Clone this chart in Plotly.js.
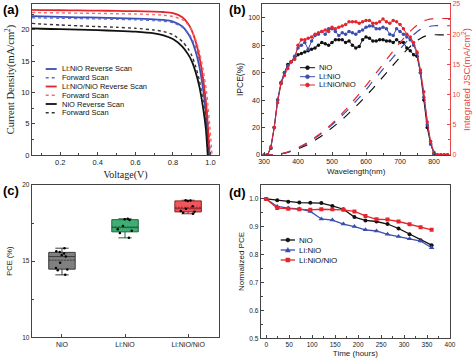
<!DOCTYPE html>
<html><head><meta charset="utf-8">
<script src="https://cdn.plot.ly/plotly-3.0.1.min.js"></script>
<style>html,body{margin:0;padding:0;background:#fff}#chart{width:474px;height:361px}</style>
</head><body><div id="chart"></div>
<script>
// ---------- (a) J-V curves ----------
const vRedRev = [0.05,0.1,0.2,0.3,0.4,0.5,0.6,0.7,0.75,0.8,0.85,0.88,0.9,0.92,0.94,0.96,0.98,0.995];
const jRedRev = [23.15,23.13,23.1,23.07,23.04,23.0,22.95,22.88,22.82,22.65,22.0,21.0,19.9,18.2,15.8,12.3,7.0,0];
const vRedFwd = [0.05,0.1,0.2,0.3,0.4,0.5,0.6,0.7,0.75,0.8,0.85,0.88,0.9,0.92,0.94,0.96,0.98,0.995,1.008];
const jRedFwd = [22.75,22.72,22.68,22.64,22.6,22.55,22.5,22.4,22.3,22.1,21.6,20.8,19.9,18.5,16.6,13.8,9.8,5.0,0];
const vBlueRev = [0.05,0.1,0.2,0.3,0.4,0.5,0.6,0.7,0.75,0.8,0.85,0.88,0.9,0.92,0.94,0.96,0.975,0.99];
const jBlueRev = [22.15,22.12,22.05,21.98,21.92,21.85,21.78,21.65,21.55,21.3,20.5,19.4,18.3,16.6,14.2,10.6,6.8,0];
const vBlueFwd = [0.05,0.1,0.2,0.3,0.4,0.5,0.6,0.7,0.75,0.8,0.85,0.88,0.9,0.92,0.94,0.96,0.98,1.0];
const jBlueFwd = [21.9,21.88,21.83,21.78,21.72,21.65,21.58,21.45,21.35,21.1,20.4,19.5,18.6,17.2,15.1,12.0,7.5,0];
const vBlackRev = [0.05,0.1,0.2,0.3,0.4,0.5,0.6,0.7,0.75,0.8,0.85,0.88,0.9,0.92,0.94,0.96,0.975,0.985];
const jBlackRev = [20.2,20.15,20.08,20.0,19.92,19.82,19.68,19.4,19.1,18.5,17.3,16.1,15.0,13.3,11.0,7.6,4.2,0];
const vBlackFwd = [0.05,0.1,0.2,0.3,0.4,0.5,0.6,0.7,0.75,0.8,0.85,0.88,0.9,0.92,0.94,0.96,0.975,0.99];
const jBlackFwd = [21.0,20.9,20.75,20.62,20.5,20.38,20.22,19.95,19.7,19.2,18.1,17.0,15.9,14.2,12.0,8.7,5.5,0];
const jvNames = ["Li:NiO Reverse Scan","Forward Scan","Li:NiO/NiO Reverse Scan","Forward Scan","NiO Reverse Scan","Forward Scan"];

// ---------- (b) IPCE ----------
const wl = [300,310,320,330,340,350,360,370,380,390,400,410,420,430,440,450,460,470,480,490,500,510,520,530,540,550,560,570,580,590,600,610,620,630,640,650,660,670,680,690,700,710,720,730,740,750,760,770,780,790,800,810,820,830,840];
const ipceNiO = [0,0,5,20,40,52,60,66,68,70,73,74,75,76,77,78,80,82,81,80,82,84,84,84,82,83,80,78,79,84,86,85,83,83,84,84,83,83,82,84,82,82,78,76,73,72,60,40,20,8,1,0,0,0,0];
const ipceLi = [0,0,5,20,40,53,60,65,68,72,78,80,82,77,83,87,88,90,88,92,92,90,87,89,88,90,89,88,90,91,93,94,94,92,92,93,92,88,87,92,90,88,86,84,80,74,60,42,22,8,1,0,0,0,0];
const ipceLiNiO = [0,0,6,20,38,52,58,63,68,70,80,84,84,85,86,88,89,90,91,90,93,92,93,94,95,97,97,97,96,97,98,98,96,96,97,99,97,96,98,97,95,92,88,86,82,75,62,46,24,10,2,0,0,0,0];
const wlJ = [300,320,340,360,380,400,420,440,460,480,500,520,540,560,580,600,620,640,660,680,700,720,740,760,780,800,820,840,850];
const jscNiO = [0,0,0.1,0.3,0.6,1.0,1.5,2.1,2.8,3.6,4.5,5.4,6.4,7.5,8.6,9.8,11.0,12.3,13.6,14.9,16.2,17.4,18.5,19.3,19.8,19.9,19.9,19.9,19.9];
const jscLi = [0,0,0.1,0.3,0.7,1.1,1.7,2.4,3.2,4.0,5.0,6.0,7.1,8.3,9.5,10.8,12.2,13.5,14.9,16.2,17.5,18.8,19.9,20.8,21.2,21.4,21.4,21.4,21.4];
const jscLiNiO = [0,0,0.1,0.3,0.7,1.2,1.8,2.5,3.3,4.2,5.2,6.3,7.5,8.8,10.1,11.5,12.9,14.3,15.8,17.2,18.6,19.9,21.0,21.9,22.4,22.6,22.6,22.6,22.6];

// ---------- (c) PCE statistics ----------
const groups = ["NiO","Li:NiO","Li:NiO/NiO"];
const pceNiO = [14.1,14.4,14.45,14.55,14.9,15.3,15.4,15.5,15.6,15.65,15.85];
const pceLi = [16.53,16.85,17.0,17.1,17.3,17.7,17.75,17.78];
const pceLiNiO = [18.11,18.18,18.25,18.3,18.44,18.6,18.95,18.98,19.0];

// ---------- (d) stability ----------
const hours = [0,24,48,72,96,120,144,168,192,216,240,264,288,312,336,360];
const stabNiO = [1.0,0.995,0.990,0.987,0.986,0.985,0.975,0.963,0.935,0.923,0.919,0.910,0.894,0.873,0.852,0.834];
const stabLi = [1.0,0.973,0.967,0.964,0.955,0.928,0.924,0.910,0.901,0.889,0.885,0.873,0.865,0.857,0.849,0.825];
const stabLiNiO = [1.0,0.967,0.965,0.963,0.961,0.963,0.963,0.961,0.955,0.939,0.927,0.926,0.919,0.909,0.898,0.889];
const seriesNames = ["NiO","Li:NiO","Li:NiO/NiO"];

// ---------- styling ----------
const RED = '#e3262d', BLUE = '#3b4db0', BLACK = '#111111';
const RED_L = '#f06a6e', BLUE_L = '#5b6fd6', BLACK_L = '#333333';
const GREEN = '#3fae74';
const SANS = 'Liberation Sans, Arial, sans-serif';
const SERIF = 'Liberation Serif, Times New Roman, serif';
const W = 474, H = 361;
const PX = p => p / W, PY = p => 1 - p / H;

const traces = [];
// (a)
const jvSets = [
  [vBlueRev, jBlueRev, BLUE, 'solid', 1.8],
  [vBlueFwd, jBlueFwd, BLUE_L, 'dot', 1.4],
  [vRedRev, jRedRev, RED, 'solid', 1.8],
  [vRedFwd, jRedFwd, RED_L, 'dot', 1.4],
  [vBlackRev, jBlackRev, BLACK, 'solid', 1.8],
  [vBlackFwd, jBlackFwd, BLACK_L, 'dot', 1.4]
];
jvSets.forEach((s, i) => traces.push({x: s[0], y: s[1], type: 'scatter', mode: 'lines', name: jvNames[i],
  line: {color: s[2], dash: s[3], width: s[4], shape: 'spline', smoothing: 0.6}, xaxis: 'x', yaxis: 'y', showlegend: false}));

// (b)
const ipceSets = [[ipceNiO, BLACK], [ipceLi, BLUE], [ipceLiNiO, RED]];
ipceSets.forEach((s, i) => traces.push({x: wl, y: s[0], type: 'scatter', mode: 'lines+markers', name: seriesNames[i],
  line: {color: s[1], width: 1}, marker: {color: s[1], size: 3.5, symbol: 'circle'}, xaxis: 'x2', yaxis: 'y2', showlegend: false}));
const jscSets = [[jscNiO, BLACK], [jscLi, BLUE], [jscLiNiO, RED]];
jscSets.forEach((s, i) => traces.push({x: wlJ, y: s[0], type: 'scatter', mode: 'lines', name: seriesNames[i] + ' Jsc',
  line: {color: s[1], width: 1.2, dash: 'dash', shape: 'spline'}, xaxis: 'x2', yaxis: 'y3', showlegend: false}));

// (c)
const boxSets = [[pceNiO, '#808080', '#3a3a3a'], [pceLi, GREEN, '#23613f'], [pceLiNiO, '#f0575c', '#8a2226']];
boxSets.forEach((s, i) => traces.push({type: 'box', y: s[0], x: s[0].map(() => i), name: groups[i],
  fillcolor: s[1], line: {color: s[2], width: 1}, width: 0.42, whiskerwidth: 0.5,
  boxpoints: 'all', jitter: 0.7, pointpos: 0, marker: {color: '#000', size: 2.5},
  boxmean: true, xaxis: 'x3', yaxis: 'y4', showlegend: false}));

// (d)
const stabSets = [[stabNiO, BLACK, 'circle', 4], [stabLi, BLUE, 'triangle-up', 5], [stabLiNiO, RED, 'square', 4]];
stabSets.forEach((s, i) => traces.push({x: hours, y: s[0], type: 'scatter', mode: 'lines+markers', name: seriesNames[i],
  line: {color: s[1], width: 1.3}, marker: {color: s[1], size: s[3], symbol: s[2]}, xaxis: 'x4', yaxis: 'y5', showlegend: false}));

// ---------- axes ----------
const baseAx = (o) => Object.assign({showgrid: false, zeroline: false, showline: true, linecolor: '#444', linewidth: 1,
  ticks: 'inside', ticklen: 3, tickcolor: '#444', tickfont: {family: SANS, size: 7, color: '#222'}, mirror: true}, o);

const layout = {
  width: W, height: H, margin: {l: 0, r: 0, t: 0, b: 0}, paper_bgcolor: '#fff', plot_bgcolor: '#fff',
  showlegend: false, boxmode: 'overlay',
  xaxis: baseAx({domain: [PX(32), PX(219)], range: [0.05, 1.045], anchor: 'y',
    tickvals: [0.2, 0.4, 0.6, 0.8, 1.0], tickformat: '.1f', tickfont: {family: SANS, size: 7.5, color: '#222'},
    minor: {tickvals: [0.1, 0.3, 0.5, 0.7, 0.9], ticks: 'inside', ticklen: 2, tickcolor: '#444'},
    title: {text: 'Voltage(V)', font: {family: SERIF, size: 10, color: '#222'}, standoff: 4}}),
  yaxis: baseAx({domain: [PY(155), PY(4)], range: [0, 24.1], anchor: 'x',
    tickvals: [0, 5, 10, 15, 20], tickfont: {family: SANS, size: 7.5, color: '#222'},
    minor: {tickvals: [2.5, 7.5, 12.5, 17.5, 22.5], ticks: 'inside', ticklen: 2, tickcolor: '#444'},
    title: {text: 'Current Density(mA/cm<sup>2</sup>)', font: {family: SERIF, size: 10.5, color: '#222'}, standoff: 4}}),

  xaxis2: baseAx({domain: [PX(262.3), PX(450)], range: [295, 847], anchor: 'y2',
    tickvals: [300, 400, 500, 600, 700, 800], mirror: true,
    minor: {tickvals: [350, 450, 550, 650, 750], ticks: 'inside', ticklen: 2, tickcolor: '#444'},
    title: {text: 'Wavelength(nm)', font: {family: SANS, size: 8, color: '#222'}, standoff: 3}}),
  yaxis2: baseAx({domain: [PY(155), PY(4)], range: [0, 110], anchor: 'x2', mirror: false,
    tickvals: [0, 20, 40, 60, 80, 100],
    minor: {tickvals: [10, 30, 50, 70, 90], ticks: 'inside', ticklen: 2, tickcolor: '#444'},
    title: {text: 'IPCE(%)', font: {family: SANS, size: 8.5, color: '#222'}, standoff: 3}}),
  yaxis3: baseAx({overlaying: 'y2', side: 'right', anchor: 'x2', range: [0, 25], mirror: false,
    linecolor: '#e8474c', tickcolor: '#e8474c', tickvals: [0, 5, 10, 15, 20, 25],
    tickfont: {family: SANS, size: 7, color: '#e8474c'},
    minor: {tickvals: [2.5, 7.5, 12.5, 17.5, 22.5], ticks: 'inside', ticklen: 2, tickcolor: '#e8474c'},
    title: {text: 'Integrated JSC(mA/cm<sup>2</sup>)', font: {family: SANS, size: 9.5, color: '#e8474c'}, standoff: 3}}),

  xaxis3: baseAx({domain: [PX(31.7), PX(219)], range: [-0.48, 2.49], anchor: 'y4',
    tickvals: [0, 1, 2], ticktext: groups, tickfont: {family: SANS, size: 7, color: '#222'}}),
  yaxis4: baseAx({domain: [PY(337.3), PY(185)], range: [10, 20], anchor: 'x3',
    tickvals: [10, 15, 20], tickfont: {family: SANS, size: 6.5, color: '#222'},
    minor: {tickvals: [12.5, 17.5], ticks: 'inside', ticklen: 2, tickcolor: '#444'},
    title: {text: 'PCE (%)', font: {family: SANS, size: 7.5, color: '#222'}, standoff: 8}}),

  xaxis4: baseAx({domain: [PX(260.7), PX(450)], range: [-12, 400], anchor: 'y5',
    tickvals: [0, 50, 100, 150, 200, 250, 300, 350, 400], tickfont: {family: SANS, size: 6.5, color: '#222'},
    minor: {tickvals: [25, 75, 125, 175, 225, 275, 325, 375], ticks: 'inside', ticklen: 2, tickcolor: '#444'},
    title: {text: 'Time (hours)', font: {family: SANS, size: 8, color: '#222'}, standoff: 3}}),
  yaxis5: baseAx({domain: [PY(338.3), PY(184.7)], range: [0.5, 1.051], anchor: 'x4',
    tickvals: [0.5, 0.6, 0.7, 0.8, 0.9, 1.0], tickformat: '.1f', tickfont: {family: SANS, size: 6.5, color: '#222'},
    minor: {tickvals: [0.55, 0.65, 0.75, 0.85, 0.95], ticks: 'inside', ticklen: 2, tickcolor: '#444'},
    title: {text: 'Normalized PCE', font: {family: SANS, size: 8, color: '#222'}, standoff: 3}}),
  shapes: [], annotations: []
};

// panel labels
[['(a)', 11, 10], ['(b)', 237, 10], ['(c)', 11, 190], ['(d)', 237, 192]].forEach(l =>
  layout.annotations.push({text: '<b>' + l[0] + '</b>', x: PX(l[1]), y: PY(l[2]), xref: 'paper', yref: 'paper',
    xanchor: 'center', yanchor: 'middle', showarrow: false, font: {family: SANS, size: 13, color: '#000'}}));

// hand-drawn compact legends
function addLegend(rows, x0, x1, tx, fsize) {
  rows.forEach(r => {
    layout.shapes.push({type: 'line', xref: 'paper', yref: 'paper', x0: PX(x0), x1: PX(x1), y0: PY(r.y), y1: PY(r.y),
      line: {color: r.color, width: r.width || 1.5, dash: r.dash || 'solid'}});
    if (r.symbol) {
      const cx = PX((x0 + x1) / 2), cy = PY(r.y), s = r.symbol;
      const common = {xref: 'paper', yref: 'paper', xsizemode: 'pixel', ysizemode: 'pixel', xanchor: cx, yanchor: cy,
        fillcolor: r.color, line: {color: r.color, width: 0.5}};
      if (s === 'circle') layout.shapes.push(Object.assign({type: 'circle', x0: -2, x1: 2, y0: -2, y1: 2}, common));
      else if (s === 'square') layout.shapes.push(Object.assign({type: 'rect', x0: -2, x1: 2, y0: -2, y1: 2}, common));
      else layout.shapes.push(Object.assign({type: 'path', path: 'M -2.5 -2 L 2.5 -2 L 0 2.5 Z'}, common));
    }
    layout.annotations.push({text: r.text, xref: 'paper', yref: 'paper', x: PX(tx), y: PY(r.y), xanchor: 'left', yanchor: 'middle',
      showarrow: false, font: {family: SANS, size: fsize, color: '#111'}});
  });
}
addLegend([
  {y: 69, color: BLUE, text: jvNames[0], width: 1.8},
  {y: 77.7, color: BLUE_L, dash: 'dot', text: jvNames[1], width: 1.4},
  {y: 86.5, color: RED, text: jvNames[2], width: 1.8},
  {y: 95.3, color: RED_L, dash: 'dot', text: jvNames[3], width: 1.4},
  {y: 104, color: BLACK, text: jvNames[4], width: 1.8},
  {y: 112.7, color: BLACK_L, dash: 'dot', text: jvNames[5], width: 1.4}
], 45.7, 56.7, 60, 7.5);
addLegend([
  {y: 67.7, color: BLACK, symbol: 'circle', text: seriesNames[0], width: 1},
  {y: 76.7, color: BLUE, symbol: 'circle', text: seriesNames[1], width: 1},
  {y: 85, color: RED, symbol: 'circle', text: seriesNames[2], width: 1}
], 300, 315, 316.5, 7.7);
addLegend([
  {y: 240, color: BLACK, symbol: 'circle', text: seriesNames[0], width: 1.3},
  {y: 250, color: BLUE, symbol: 'triangle', text: seriesNames[1], width: 1.3},
  {y: 260, color: RED, symbol: 'square', text: seriesNames[2], width: 1.3}
], 280.7, 295, 296.5, 8);

Plotly.newPlot('chart', traces, layout, {staticPlot: true, displayModeBar: false});
</script></body></html>
